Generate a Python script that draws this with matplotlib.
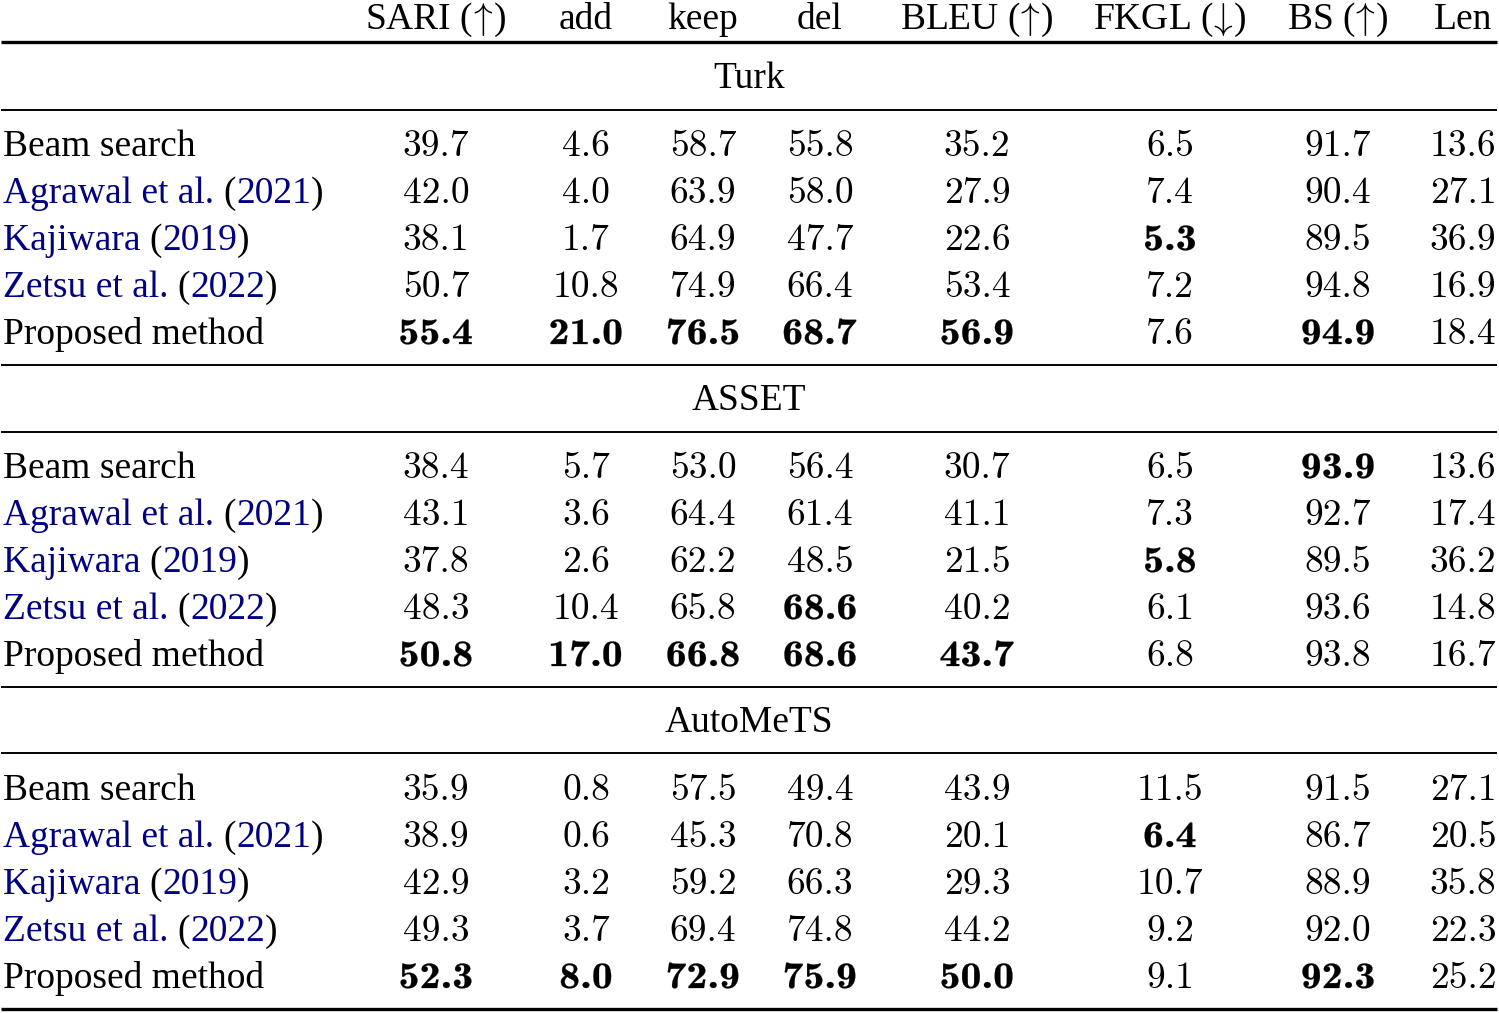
import matplotlib.pyplot as plt
from matplotlib.textpath import TextPath
from matplotlib.font_manager import FontProperties
from matplotlib.patches import PathPatch
from matplotlib.transforms import Affine2D

plt.rcParams['mathtext.fontset'] = 'cm'

# table content
columns = [r"SARI ($\!\uparrow\!$)", "add", "keep", "del", r"BLEU ($\!\uparrow\!$)",
           r"FKGL ($\!\downarrow\!$)", r"BS ($\!\uparrow\!$)", "Len"]
datasets = ["Turk", "ASSET", "AutoMeTS"]
methods = ["Beam search", "Agrawal et al. (2021)", "Kajiwara (2019)",
           "Zetsu et al. (2022)", "Proposed method"]

turk = [
    [39.7, 4.6, 58.7, 55.8, 35.2, 6.5, 91.7, 13.6],
    [42.0, 4.0, 63.9, 58.0, 27.9, 7.4, 90.4, 27.1],
    [38.1, 1.7, 64.9, 47.7, 22.6, 5.3, 89.5, 36.9],
    [50.7, 10.8, 74.9, 66.4, 53.4, 7.2, 94.8, 16.9],
    [55.4, 21.0, 76.5, 68.7, 56.9, 7.6, 94.9, 18.4],
]
asset = [
    [38.4, 5.7, 53.0, 56.4, 30.7, 6.5, 93.9, 13.6],
    [43.1, 3.6, 64.4, 61.4, 41.1, 7.3, 92.7, 17.4],
    [37.8, 2.6, 62.2, 48.5, 21.5, 5.8, 89.5, 36.2],
    [48.3, 10.4, 65.8, 68.6, 40.2, 6.1, 93.6, 14.8],
    [50.8, 17.0, 66.8, 68.6, 43.7, 6.8, 93.8, 16.7],
]
automets = [
    [35.9, 0.8, 57.5, 49.4, 43.9, 11.5, 91.5, 27.1],
    [38.9, 0.6, 45.3, 70.8, 20.1, 6.4, 86.7, 20.5],
    [42.9, 3.2, 59.2, 66.3, 29.3, 10.7, 88.9, 35.8],
    [49.3, 3.7, 69.4, 74.8, 44.2, 9.2, 92.0, 22.3],
    [52.3, 8.0, 72.9, 75.9, 50.0, 9.1, 92.3, 25.2],
]
# bold cells (row, col) per dataset
bold_turk = [(4, 0), (4, 1), (4, 2), (4, 3), (4, 4), (2, 5), (4, 6)]
bold_asset = [(4, 0), (4, 1), (4, 2), (3, 3), (4, 3), (4, 4), (2, 5), (0, 6)]
bold_automets = [(4, 0), (4, 1), (4, 2), (4, 3), (4, 4), (1, 5), (4, 6)]

W, H = 1499, 1013
fig = plt.figure(figsize=(W / 100, H / 100), dpi=100)
ax = fig.add_axes([0, 0, 1, 1])
ax.set_xlim(0, W)
ax.set_ylim(H, 0)
ax.axis("off")

serif = ["Liberation Serif", "DejaVu Serif"]
fs = 27
blue = (0.0, 0.0, 0.5)
col_x = [436, 586, 703, 820, 977, 1170, 1338, 1463]

for x, c in zip(col_x, columns):
    ax.text(x, 29, c, family=serif, fontsize=fs, ha="center", va="baseline")

lw_thick, lw_thin = 2.4, 1.4
for y, lw in [(42, lw_thick), (110, lw_thin), (365, lw_thin), (432, lw_thin),
              (687, lw_thin), (753, lw_thin), (1009, lw_thick)]:
    ax.plot([1, 1497], [y, y], color="black", lw=lw, solid_capstyle="butt")

fig.canvas.draw()
renderer = fig.canvas.get_renderer()
bold_prop = FontProperties(family="cmb10")
sx = 1.12


def draw_method(x, y, name):
    # citations: name/year in blue, parentheses in black
    if "(" not in name:
        ax.text(x, y, name, family=serif, fontsize=fs, va="baseline")
        return
    head, rest = name.split("(")
    year = rest.rstrip(")")
    for txt, colr in [(head, blue), ("(", "black"), (year, blue), (")", "black")]:
        t = ax.text(x, y, txt, family=serif, fontsize=fs, va="baseline", color=colr)
        x += t.get_window_extent(renderer).width


def draw_bold(x, y, s):
    # bold extended look: cmb10 glyphs stretched a little horizontally
    p = TextPath((0, 0), s, size=fs * 100 / 72, prop=bold_prop)
    ext = p.get_extents()
    mid = (ext.x0 + ext.x1) / 2 * sx
    tr = Affine2D().scale(sx, -1).translate(x - mid, y)
    ax.add_patch(PathPatch(tr.transform_path(p), fc="black", ec="black", lw=0.2))


blocks = [(turk, bold_turk), (asset, bold_asset), (automets, bold_automets)]
for b, (name, (vals, bolds)) in enumerate(zip(datasets, blocks)):
    off = 322 * b
    ax.text(749, 88 + off, name, family=serif, fontsize=fs, ha="center", va="baseline")
    for r, (m, row) in enumerate(zip(methods, vals)):
        y = 156 + off + 47 * r
        draw_method(3, y, m)
        for c, v in enumerate(row):
            if (r, c) in bolds:
                draw_bold(col_x[c], y, f"{v:.1f}")
            else:
                ax.text(col_x[c], y, f"{v:.1f}", family="cmr10", fontsize=fs,
                        ha="center", va="baseline")

fig.savefig("out.png", dpi=100)
